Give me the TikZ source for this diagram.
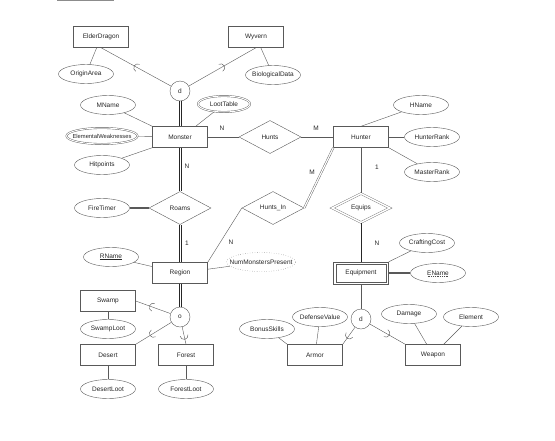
\documentclass[tikz,border=0pt]{standalone}
\usepackage{fontspec}
\setmainfont{Liberation Sans}
\usepackage{tikz}
\usetikzlibrary{shapes.geometric, decorations.markings}

\begin{document}
\begin{tikzpicture}[x=1pt, y=-1pt,
    font=\fontsize{6.5}{7.5}\selectfont,
    entity/.style={draw=black!65, rectangle, minimum width=55pt, minimum height=21pt, inner sep=0pt, text=black!85},
    weakentity/.style={entity, minimum width=55pt, minimum height=22pt},
    attr/.style={draw=black!65, ellipse, minimum width=55pt, minimum height=19pt, inner sep=0pt, text=black!85,
        execute at begin node={\hbox to 0pt\bgroup\hss}, execute at end node={\hss\egroup}},
    multiattr/.style={attr, double, double distance=1pt, minimum width=52pt, minimum height=16pt},
    derivedattr/.style={attr, dotted},
    rel/.style={draw=black!65, diamond, minimum width=62pt, minimum height=33pt, inner sep=0pt, text=black!85},
    weakrel/.style={rel, double, double distance=1.5pt, minimum width=58pt, minimum height=29pt},
    spec/.style={draw=black!65, circle, minimum size=20pt, inner sep=0pt, text=black!85},
    card/.style={inner sep=0pt, text=black!85},
    link/.style={draw=black!65},
    total/.style={draw=black!85},
    subset/.style={postaction={decorate, decoration={markings,
        mark=at position #1 with {\draw[black!70] (2pt,4pt) arc[start angle=90, end angle=270, radius=4pt];}}}}]
    \useasboundingbox (0,0) rectangle (555,440);
    \draw[black!45, line width=1pt] (57,0.5) -- (114,0.5);

    \node[entity] (ElderDragon) at (101,37) {ElderDragon};
    \node[entity] (Wyvern) at (256,37) {Wyvern};
    \node[attr] (OriginArea) at (86,74) {OriginArea};
    \node[attr] (BiologicalData) at (273,75) {BiologicalData};
    \node[spec] (dtop) at (180,91) {d};

    \node[entity] (Monster) at (180,137) {Monster};
    \node[attr] (MName) at (108,105) {MName};
    \node[multiattr] (LootTable) at (224,104) {LootTable};
    \node[multiattr, minimum width=71pt, font=\fontsize{5.8}{7}\selectfont] (ElemWeak) at (102,136) {ElementalWeaknesses};
    \node[attr] (Hitpoints) at (102,165) {Hitpoints};
    \node[rel] (Hunts) at (270,137) {Hunts};
    \node[entity] (Hunter) at (361,137) {Hunter};
    \node[attr] (HName) at (421,105) {HName};
    \node[attr] (HunterRank) at (432,137) {HunterRank};
    \node[attr] (MasterRank) at (432,172) {MasterRank};

    \node[rel] (Roams) at (180,208) {Roams};
    \node[attr] (FireTimer) at (102,208) {FireTimer};
    \node[rel] (HuntsIn) at (273,208) {Hunts\_In};
    \node[weakrel] (Equips) at (361,208) {Equips};

    \node[entity] (Region) at (180,273) {Region};
    \node[attr] (RName) at (111,257) {\underline{RName}};
    \node[derivedattr, minimum width=69pt] (NumMonsters) at (261,262) {NumMonstersPresent};
    \node[weakentity] (Equipment) at (361,273) {Equipment};
    \draw[black!65] ([shift={(2.5pt,-2.5pt)}]Equipment.north west) rectangle ([shift={(-2.5pt,2.5pt)}]Equipment.south east);
    \node[attr] (CraftingCost) at (427,243) {CraftingCost};
    \node[attr] (EName) at (438,273) {EName};
    \draw[black!70, dash pattern=on 1pt off 0.8pt] ([xshift=-10.5pt, yshift=-3.4pt]EName.center) -- ([xshift=10.5pt, yshift=-3.4pt]EName.center);

    \node[spec] (ospec) at (180,317) {o};
    \node[entity] (Swamp) at (108,301) {Swamp};
    \node[attr] (SwampLoot) at (108,329) {SwampLoot};
    \node[entity] (Desert) at (108,355) {Desert};
    \node[attr] (DesertLoot) at (108,389) {DesertLoot};
    \node[entity] (Forest) at (186,355) {Forest};
    \node[attr] (ForestLoot) at (186,389) {ForestLoot};

    \node[spec] (dbot) at (361,319) {d};
    \node[entity] (Armor) at (315,355) {Armor};
    \node[entity] (Weapon) at (433,355) {Weapon};
    \node[attr] (BonusSkills) at (267,329) {BonusSkills};
    \node[attr] (DefenseValue) at (320,317) {DefenseValue};
    \node[attr] (Damage) at (409,314) {Damage};
    \node[attr] (Element) at (471,317) {Element};

    \node[card] (cMonHunts) at (222,128) {N};
    \node[card] (cHunterHunts) at (316,128) {M};
    \node[card] (cMonRoams) at (187,166) {N};
    \node[card] (cRegRoams) at (187,243) {1};
    \node[card] (cHunterIn) at (312,172) {M};
    \node[card] (cRegIn) at (231,242) {N};
    \node[card] (cHunterEq) at (377,167) {1};
    \node[card] (cEquipEq) at (377,243) {N};

    \draw[link] (OriginArea) -- (ElderDragon);
    \draw[link] (BiologicalData) -- (Wyvern);
    \draw[link, subset=0.5] (ElderDragon.south) -- (dtop);
    \draw[link, subset=0.5] (Wyvern.south) -- (dtop);
    \foreach \s in {-1.1pt,1.1pt} {
        \draw[total] ([xshift=\s]dtop.south) -- ([xshift=\s]Monster.north);
        \draw[total] ([xshift=\s]Monster.south) -- ([xshift=\s]Roams.north);
        \draw[total] ([xshift=\s]Roams.south) -- ([xshift=\s]Region.north);
        \draw[total] ([xshift=\s]Region.south) -- ([xshift=\s]ospec.north);
    }

    \draw[link] (MName) -- (Monster.north west);
    \draw[link] (LootTable) -- ([xshift=-12pt]Monster.north east);
    \draw[link] (ElemWeak) -- (Monster);
    \draw[link] (Hitpoints) -- (Monster.south west);
    \draw[link] (Monster) -- (Hunts);
    \draw[link] (Hunts) -- (Hunter);
    \draw[link] (HName) -- (Hunter.north);
    \draw[link] (HunterRank) -- (Hunter);
    \draw[link] (MasterRank) -- (Hunter.south east);

    \draw[link, line width=1.2pt] (FireTimer) -- (Roams);
    \draw[link, double, double distance=1.2pt] (Hunter.south west) -- (HuntsIn.east);
    \draw[link] (HuntsIn.west) -- (Region.north east);
    \draw[link] (Hunter) -- (Equips);
    \draw[total] (Equips) -- (Equipment);

    \draw[link] (RName) -- (Region);
    \draw[link] (NumMonsters) -- (Region);
    \draw[link] (CraftingCost) -- (Equipment.north east);
    \draw[link, line width=1.2pt] (EName) -- (Equipment);

    \draw[link, subset=0.45] (Swamp.east) -- (ospec);
    \draw[link, subset=0.45] (Desert.north east) -- (ospec);
    \draw[link, subset=0.4] (Forest.north) -- (ospec);
    \draw[link] (Swamp) -- (SwampLoot);
    \draw[link] (Desert) -- (DesertLoot);
    \draw[link] (Forest) -- (ForestLoot);

    \draw[link] (Equipment) -- (dbot);
    \draw[link, subset=0.45] (Armor.north east) -- (dbot);
    \draw[link, subset=0.5] (Weapon.north west) -- (dbot);
    \draw[link] (BonusSkills) -- (Armor.north west);
    \draw[link] (DefenseValue) -- (Armor);
    \draw[link] (Damage) -- (Weapon);
    \draw[link] (Element) -- (Weapon);
\end{tikzpicture}
\end{document}
